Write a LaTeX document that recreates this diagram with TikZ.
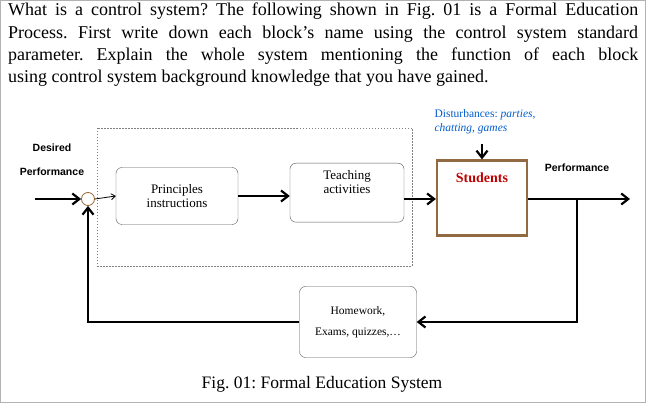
\documentclass[tikz,border=0pt]{standalone}
\usepackage{fontspec}
\setmainfont{Liberation Serif}
\setsansfont{Liberation Sans}
\usetikzlibrary{arrows.meta}
\frenchspacing
\begin{document}
\begin{tikzpicture}[x=1pt,y=-1pt,
  blk/.style={draw=gray!70!black,rounded corners=6pt,fill=white,align=center,font=\fontsize{13}{14}\selectfont},
  lbl/.style={font=\sffamily\bfseries\fontsize{10.5}{12}\selectfont},
  ar/.style={line width=2.2pt,-{Straight Barb[length=7pt,width=11pt]}}]
\useasboundingbox (0,0) rectangle (646,403);
\draw[gray!60] (0.5,0.5) rectangle (645.5,402.5);
\node[anchor=north west,text width=630pt,align=justify,inner sep=0pt,font=\fontsize{18}{22.3}\selectfont] (q) at (8,3)
{What is a control system? The following shown in Fig.\ 01 is a Formal Education\linebreak Process. First write down each block's name using the control system standard\linebreak parameter. Explain the whole system mentioning the function of each block\linebreak using control system background knowledge that you have gained.};
\draw[dashed,gray,dash pattern=on 1.5pt off 1.5pt] (97,128) rectangle (412,266);
\node[lbl] (d1) at (52,148) {Desired};
\node[lbl] (d2) at (52,172) {Performance};
\coordinate (in) at (35,199);
\node[draw=brown!80!black,circle,minimum size=13pt,inner sep=0pt,line width=0.8pt] (c) at (88,199) {};
\node[blk,minimum width=122pt,minimum height=57pt] (p) at (177,196) {Principles\\instructions};
\node[blk,minimum width=114pt,minimum height=59pt,anchor=north] (t) at (347,163) {};
\node[font=\fontsize{13}{14}\selectfont,align=center] (tt) at (347,182) {Teaching\\activities};
\node[draw=brown!70!black!90,line width=2.2pt,minimum width=90pt,minimum height=75pt] (s) at (482,198) {};
\node[text=red!75!black,font=\bfseries\fontsize{14}{15}\selectfont] (st) at (482,178) {Students};
\node[text=blue!55!cyan!80!black,align=left,anchor=west,font=\fontsize{11.5}{14}\selectfont] (dist) at (431,122) {Disturbances: \itshape parties,\\\itshape chatting, games};
\coordinate (dtop) at (482,144);
\node[lbl] (perf) at (577,168) {Performance};
\coordinate (out) at (630,199);
\coordinate (br) at (577,199);
\node[blk,minimum width=117pt,minimum height=71pt,font=\fontsize{11.5}{21}\selectfont] (h) at (358,322) {Homework,\\Exams, quizzes,\dots};
\node[font=\fontsize{17.5}{18}\selectfont] (cap) at (322,384) {Fig.\ 01: Formal Education System};
\draw[ar] (in) -- (c.west);
\draw[line width=0.8pt,-{Straight Barb[length=4pt,width=6pt]}] (c.east) -- (p.west);
\draw[ar] (p.east) -- (t.west |- p.east);
\draw[ar] (t.east |- 0,199) -- (s.west |- 0,199);
\draw[ar] (dtop) -- (s.north);
\draw[ar] (s.east |- 0,199) -- (out);
\draw[ar] (br) |- (h.east);
\draw[ar] (h.west) -| (c.south);
\end{tikzpicture}
\end{document}
